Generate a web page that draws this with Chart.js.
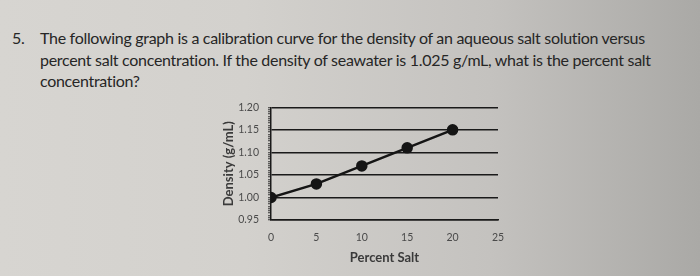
<!DOCTYPE html>
<html>
<head>
<meta charset="utf-8">
<script src="https://cdn.jsdelivr.net/npm/chart.js@4/dist/chart.umd.min.js"></script>
<style>
  html, body { margin: 0; padding: 0; }
  body {
    width: 700px; height: 276px; overflow: hidden; position: relative;
    background: linear-gradient(90deg, #d7d5d1 0%, #d3d1cd 35%, #c4c2bf 70%, #aaa9a6 100%);
    font-family: Lato, "Open Sans", sans-serif;
  }
  #q {
    position: absolute; left: 12px; top: 27px; width: 690px;
    color: #262626; font-size: 16px; line-height: 21.5px; letter-spacing: -0.3px;
    white-space: nowrap;
  }
  #q .num { position: absolute; left: 0; top: 0; }
  #q .txt { margin-left: 28px; }
  #box { position: absolute; left: 200px; top: 92px; width: 310px; height: 178px; }
</style>
</head>
<body>
<div id="q"><span class="num">5.</span><div class="txt">The following graph is a calibration curve for the density of an aqueous salt solution versus<br>percent salt concentration. If the density of seawater is 1.025 g/mL, what is the percent salt<br>concentration?</div></div>
<div id="box"><canvas id="graph"></canvas></div>
<script>
let percentSalt = [0, 5, 10, 15, 20]
let density = [1.00, 1.03, 1.07, 1.11, 1.15]
let xTicks = [0, 5, 10, 15, 20, 25]
let yTicks = [0.95, 1.00, 1.05, 1.10, 1.15, 1.20]

let esMayor = (v) => Math.round(v * 1000) % 50 === 0

var ctx = document.getElementById('graph');

var misDatos = {
    datasets: [{
        label: 'Densidad',
        data: percentSalt.map((x, i) => ({ x: x, y: density[i] })),
        borderColor: '#151515',
        backgroundColor: '#151515',
        borderWidth: 2.5,
        pointRadius: 4.5,
        pointHoverRadius: 4.5,
        tension: 0,
        fill: false,
    }]
};

const config = {
    type: 'line',
    data: misDatos,
    options: {
        responsive: true,
        maintainAspectRatio: false,
        animation: false,
        layout: { padding: { left: 21, top: 2, right: 12, bottom: 0 } },
        plugins: { legend: { display: false }, tooltip: { enabled: false } },
        scales: {
            x: {
                type: 'linear',
                min: 0,
                max: 25,
                afterBuildTicks: (s) => { s.ticks = xTicks.map(v => ({ value: v })) },
                afterFit: (s) => { s.height = 50 },
                grid: { display: false },
                border: { display: true, color: '#1a1a1a', width: 1.5 },
                ticks: { color: '#4a4a4a', padding: 3, font: { family: 'Lato', size: 10.5 } },
                title: {
                    display: true,
                    text: 'Percent Salt',
                    color: '#3a3a3a',
                    padding: { top: 6 },
                    font: { family: 'Lato', size: 13, weight: 'bold' }
                }
            },
            y: {
                min: 0.95,
                max: 1.20,
                afterBuildTicks: (s) => {
                    let t = []
                    for (let i = 0; i <= 50; i++) t.push({ value: yTicks[0] + i * 0.005 })
                    s.ticks = t
                },
                afterFit: (s) => { s.width = 50 },
                grid: {
                    color: (c) => esMayor(c.tick.value) ? '#1a1a1a' : 'rgba(0,0,0,0)',
                    lineWidth: 1.5,
                    tickColor: '#333',
                    tickWidth: 1,
                    tickLength: 3,
                },
                border: { display: true, color: '#1a1a1a', width: 1.5 },
                ticks: {
                    autoSkip: false,
                    color: '#4a4a4a',
                    padding: 9,
                    font: { family: 'Lato', size: 10.5 },
                    callback: (v) => esMayor(v) ? v.toFixed(2) : ''
                },
                title: {
                    display: true,
                    text: 'Density (g/mL)',
                    color: '#3a3a3a',
                    padding: { top: 0, bottom: 0 },
                    font: { family: 'Lato', size: 13, weight: 'bold' }
                }
            }
        }
    }
};

var myChart = new Chart(ctx, config);
</script>
</body>
</html>
